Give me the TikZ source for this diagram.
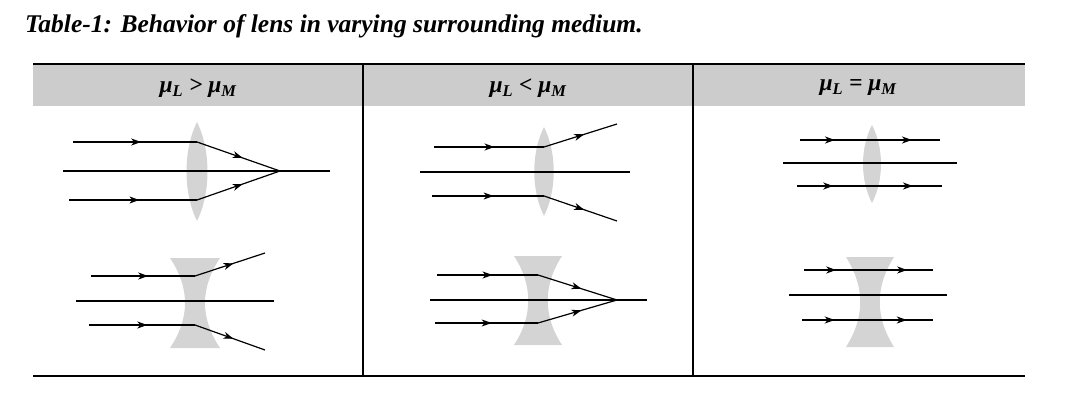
\documentclass[tikz,border=0pt]{standalone}
\usepackage{fontspec}
\setmainfont{Liberation Serif}
\usetikzlibrary{decorations.markings,arrows.meta}
\begin{document}
\begin{tikzpicture}[x=1pt,y=-1pt,
 ray/.style={line width=1.2pt},
 arr/.style={ray,postaction={decorate},decoration={markings,mark=at position 0.55 with {\arrow{Stealth[length=10pt,width=7pt,inset=3pt]}}}},
 lens/.style={fill=black!17,draw=none},
 mk/.style={postaction={decorate},decoration={markings,mark=at position 0.25 with {\arrow{Stealth[length=10pt,width=7pt,inset=3pt]}},mark=at position 0.8 with {\arrow{Stealth[length=10pt,width=7pt,inset=3pt]}}}},
 hdr/.style={font=\fontsize{23.5}{24}\selectfont\bfseries\itshape}]
\useasboundingbox (0,0) rectangle (1080,409);
\node[anchor=west,font=\fontsize{25.5}{27}\selectfont\bfseries\itshape,inner sep=0pt] (title) at (25,26) {Table-1: Behavior of lens in varying surrounding medium.};
\fill[black!20] (33,64) rectangle (1025,106);
\draw[line width=2.5pt] (33,64) -- (1025,64);
\draw[line width=2.5pt] (33,376) -- (1025,376);
\draw[line width=1.2pt] (363,64) -- (363,376) (693,64) -- (693,376);
\node[hdr] (h1) at (198,88) {μ\textsubscript{L} > μ\textsubscript{M}};
\node[hdr] (h2) at (528,88) {μ\textsubscript{L} < μ\textsubscript{M}};
\node[hdr] (h3) at (858,88) {μ\textsubscript{L} = μ\textsubscript{M}};
% row 1 convex lenses
\fill[lens] (197,122) .. controls (211,150) and (211,193) .. (197,221) .. controls (183,193) and (183,150) .. (197,122);
\fill[lens] (544,127) .. controls (557,153) and (557,190) .. (544,216) .. controls (531,190) and (531,153) .. (544,127);
\fill[lens] (872,125) .. controls (884,148) and (884,180) .. (872,203) .. controls (860,180) and (860,148) .. (872,125);
% row 2 concave lenses
\fill[lens] (170,258) -- (220,258) .. controls (200,288) and (200,318) .. (220,348) -- (170,348) .. controls (190,318) and (190,288) .. (170,258);
\fill[lens] (514,256) -- (562,256) .. controls (543,285) and (543,316) .. (562,345) -- (514,345) .. controls (533,316) and (533,285) .. (514,256);
\fill[lens] (846,257) -- (894,257) .. controls (875,287) and (875,317) .. (894,347) -- (846,347) .. controls (865,317) and (865,287) .. (846,257);
% cell 1 top
\coordinate (f1) at (280,171);
\draw[arr] (73,142) -- (197,142) coordinate (a1);
\draw[arr] (a1) -- (f1);
\draw[ray] (63,171) -- (330,171);
\draw[arr] (69,200) -- (197,200) coordinate (b1);
\draw[arr] (b1) -- (f1);
% cell 2 top
\draw[arr] (434,147) -- (544,147) coordinate (a2);
\draw[arr] (a2) -- (617,124);
\draw[ray] (420,172) -- (630,172);
\draw[arr] (432,196) -- (544,196) coordinate (b2);
\draw[arr] (b2) -- (617,221);
% cell 3 top
\draw[ray,mk] (800,140) -- (940,140);
\draw[ray] (783,163) -- (957,163);
\draw[ray,mk] (797,186) -- (942,186);
% cell 1 bottom
\draw[arr] (91,276) -- (195,276) coordinate (a4);
\draw[arr] (a4) -- (265,253);
\draw[ray] (76,301) -- (274,301);
\draw[arr] (89,325) -- (195,325) coordinate (b4);
\draw[arr] (b4) -- (265,350);
% cell 2 bottom
\coordinate (f5) at (617,300);
\draw[arr] (437,275) -- (538,275) coordinate (a5);
\draw[arr] (a5) -- (f5);
\draw[ray] (430,300) -- (647,300);
\draw[arr] (435,323) -- (538,323) coordinate (b5);
\draw[arr] (b5) -- (f5);
% cell 3 bottom
\draw[ray,mk] (804,270) -- (933,270);
\draw[ray] (789,295) -- (947,295);
\draw[ray,mk] (802,320) -- (933,320);
\end{tikzpicture}
\end{document}
